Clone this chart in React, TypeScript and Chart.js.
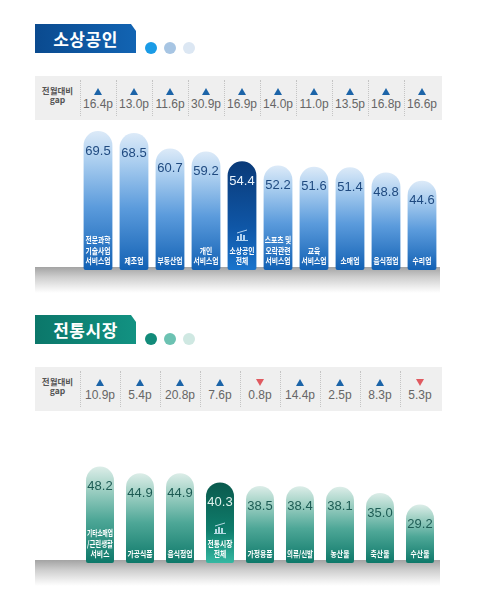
import { useEffect, useRef } from 'react';
import { Chart, registerables } from 'chart.js';

Chart.register(...registerables);

const FONT_KR = '"Noto Sans CJK KR", "Noto Sans", sans-serif';
const FONT_NUM = '"Liberation Sans", Arial, sans-serif';

// 소상공인
const bizCategories = [
    ['전문과학', '기술사업', '서비스업'],
    ['제조업'],
    ['부동산업'],
    ['개인', '서비스업'],
    ['소상공인', '전체'],
    ['스포츠 및', '오락관련', '서비스업'],
    ['교육', '서비스업'],
    ['소매업'],
    ['음식점업'],
    ['수리업'],
];
const bizValues = [69.5, 68.5, 60.7, 59.2, 54.4, 52.2, 51.6, 51.4, 48.8, 44.6];
const bizGap = ['16.4p', '13.0p', '11.6p', '30.9p', '16.9p', '14.0p', '11.0p', '13.5p', '16.8p', '16.6p'];
const bizGapUp = [true, true, true, true, true, true, true, true, true, true];
const bizHighlight = 4;

// 전통시장
const marketCategories = [
    ['기타소매업', '/근린생활', '서비스'],
    ['가공식품'],
    ['음식점업'],
    ['전통시장', '전체'],
    ['가정용품'],
    ['의류/신발'],
    ['농산물'],
    ['축산물'],
    ['수산물'],
];
const marketValues = [48.2, 44.9, 44.9, 40.3, 38.5, 38.4, 38.1, 35.0, 29.2];
const marketGap = ['10.9p', '5.4p', '20.8p', '7.6p', '0.8p', '14.4p', '2.5p', '8.3p', '5.3p'];
const marketGapUp = [true, true, true, true, false, true, true, true, false];
const marketHighlight = 3;

interface Palette {
    normal: [number, string][];
    highlight: [number, string][];
    valueColor: string;
    highlightValueColor: string;
}

const bluePalette: Palette = {
    normal: [[0, '#dceaf8'], [0.22, '#a9cdef'], [0.55, '#5b9bdc'], [1, '#1261b4']],
    highlight: [[0, '#0a3a78'], [0.6, '#0f56a6'], [1, '#1a74cc']],
    valueColor: '#1f4a80',
    highlightValueColor: '#eaf3fc',
};

const greenPalette: Palette = {
    normal: [[0, '#dcede8'], [0.22, '#a3d2c6'], [0.55, '#4ea797'], [1, '#0d7869']],
    highlight: [[0, '#0a5a4d'], [0.6, '#0f7d6c'], [1, '#35b8a2']],
    valueColor: '#1d5c54',
    highlightValueColor: '#dff2ec',
};

interface BarPanelProps {
    categories: string[][];
    values: number[];
    highlight: number;
    palette: Palette;
    width: number;
    height: number;
    yMax: number;
    barPercentage: number;
}

function BarPanel({ categories, values, highlight, palette, width, height, yMax, barPercentage }: BarPanelProps) {
    const canvasRef = useRef<HTMLCanvasElement>(null);

    useEffect(() => {
        if (!canvasRef.current) return;
        const labelPlugin = {
            id: 'barLabels',
            afterDatasetsDraw(chart: Chart) {
                const ctx = chart.ctx;
                const meta = chart.getDatasetMeta(0);
                meta.data.forEach((el: any, i: number) => {
                    const x = el.x;
                    const top = el.y;
                    const bottom = el.base;
                    const w = el.width;
                    ctx.save();
                    ctx.textAlign = 'center';
                    ctx.textBaseline = 'middle';
                    ctx.font = `13px ${FONT_NUM}`;
                    ctx.fillStyle = i === highlight ? palette.highlightValueColor : palette.valueColor;
                    ctx.fillText(values[i].toFixed(1), x, top + 20);

                    // category name, slightly condensed like the original artwork
                    const lines = categories[i];
                    const sx = 0.8;
                    ctx.font = `bold 8.5px ${FONT_KR}`;
                    ctx.fillStyle = '#ffffff';
                    lines.forEach((line, j) => {
                        const y = bottom - 9 - (lines.length - 1 - j) * 10.5;
                        ctx.save();
                        ctx.translate(x, y);
                        ctx.scale(sx, 1);
                        ctx.fillText(line, 0, 0, (w - 2) / sx);
                        ctx.restore();
                    });

                    if (i === highlight) {
                        // small chart icon above the label
                        const iy = bottom - 9 - lines.length * 10.5 - 4;
                        ctx.strokeStyle = 'rgba(220,240,255,0.8)';
                        ctx.fillStyle = 'rgba(220,240,255,0.8)';
                        ctx.lineWidth = 1;
                        ctx.fillRect(x - 5, iy, 2, 4);
                        ctx.fillRect(x - 2, iy - 2, 2, 6);
                        ctx.fillRect(x + 1, iy - 1, 2, 5);
                        ctx.beginPath();
                        ctx.moveTo(x - 6, iy + 4.5);
                        ctx.lineTo(x + 6, iy + 4.5);
                        ctx.moveTo(x - 5, iy - 3);
                        ctx.lineTo(x + 5, iy - 6);
                        ctx.stroke();
                    }
                    ctx.restore();
                });
            },
        };

        const chart = new Chart(canvasRef.current, {
            type: 'bar',
            data: {
                labels: categories.map(c => c.join(' ')),
                datasets: [{
                    data: values,
                    backgroundColor: (c: any) => {
                        const ch = c.chart;
                        const yScale = ch.scales?.y;
                        if (!ch.chartArea || !yScale || c.type !== 'data') return '#5a9ad8';
                        const top = yScale.getPixelForValue(values[c.dataIndex]);
                        const bottom = yScale.getPixelForValue(0);
                        const g = ch.ctx.createLinearGradient(0, top, 0, bottom);
                        const stops = c.dataIndex === highlight ? palette.highlight : palette.normal;
                        stops.forEach(([o, col]) => g.addColorStop(o, col));
                        return g;
                    },
                    borderWidth: 0,
                    borderSkipped: false,
                    borderRadius: { topLeft: 15, topRight: 15, bottomLeft: 2, bottomRight: 2 },
                    barPercentage,
                    categoryPercentage: 1,
                }],
            },
            options: {
                animation: false,
                responsive: false,
                maintainAspectRatio: false,
                layout: { padding: 0 },
                plugins: {
                    legend: { display: false },
                    tooltip: { enabled: false },
                },
                scales: {
                    x: { display: false },
                    y: { display: false, min: 0, max: yMax },
                },
            },
            plugins: [labelPlugin],
        });

        return () => {
            chart.destroy();
        };
    }, [categories, values, highlight, palette, yMax, barPercentage]);

    return <canvas ref={canvasRef} width={width} height={height} style={{ display: 'block', width, height }} />;
}

interface SectionProps {
    top: number;
    title: string;
    titleGradient: string;
    dotColors: string[];
    gaps: string[];
    gapUp: boolean[];
    categories: string[][];
    values: number[];
    highlight: number;
    palette: Palette;
    chartTop: number;
    chartHeight: number;
    barPercentage: number;
}

function Section({ top, title, titleGradient, dotColors, gaps, gapUp, categories, values, highlight, palette, chartTop, chartHeight, barPercentage }: SectionProps) {
    const colW = 360 / gaps.length;
    const rowTop = top + 52;
    const rowH = 44;
    return (
        <>
            <div style={{
                position: 'absolute', left: 35, top, width: 101, height: 29,
                background: titleGradient,
                clipPath: 'polygon(0 0, 96px 0, 101px 7px, 101px 100%, 0 100%)',
                color: '#fff', fontFamily: FONT_KR, fontWeight: 700, fontSize: 17,
                display: 'flex', alignItems: 'center', justifyContent: 'center',
                letterSpacing: 0.5,
            }}>{title}</div>
            {dotColors.map((c, i) => (
                <div key={i} style={{
                    position: 'absolute', left: 145 + i * 19, top: top + 18, width: 12, height: 12,
                    borderRadius: '50%', background: c,
                }} />
            ))}
            <div style={{ position: 'absolute', left: 35, top: rowTop, width: 407, height: rowH, background: '#efefef' }} />
            <div style={{
                position: 'absolute', left: 35, top: rowTop + 10, width: 45, textAlign: 'center',
                fontFamily: FONT_KR, fontWeight: 700, fontSize: 8.5, color: '#555', lineHeight: '9px',
            }}>전월대비<br />gap</div>
            {gaps.map((g, i) => (
                <div key={i} style={{ position: 'absolute', left: 80 + i * colW, top: rowTop, width: colW, height: rowH }}>
                    <div style={{ position: 'absolute', left: 0, top: 4, height: rowH - 8, borderLeft: '1px dotted #c4c4c4' }} />
                    <div style={{
                        position: 'absolute', left: colW / 2 - 4, top: 12, width: 0, height: 0,
                        borderLeft: '4px solid transparent', borderRight: '4px solid transparent',
                        ...(gapUp[i]
                            ? { borderBottom: '7px solid #1c64a8' }
                            : { borderTop: '7px solid #e05a60' }),
                    }} />
                    <div style={{
                        position: 'absolute', left: 0, top: 21, width: colW, textAlign: 'center',
                        fontFamily: FONT_NUM, fontSize: 12, color: '#666',
                    }}>{g}</div>
                </div>
            ))}
            <div style={{
                position: 'absolute', left: 35, top: chartTop + chartHeight - 3, width: 405, height: 26,
                background: 'linear-gradient(#a3a3a3, #cfcfcf 40%, #f0f0f0 80%, #ffffff)',
            }} />
            <div style={{ position: 'absolute', left: 80, top: chartTop, width: 360, height: chartHeight }}>
                <BarPanel
                    categories={categories}
                    values={values}
                    highlight={highlight}
                    palette={palette}
                    width={360}
                    height={chartHeight}
                    yMax={chartHeight / 2}
                    barPercentage={barPercentage}
                />
            </div>
        </>
    );
}

export default function App() {
    return (
        <div style={{ position: 'absolute', left: 0, top: 0, width: 489, height: 609, background: '#fff', overflow: 'hidden' }}>
            <Section
                top={24}
                title="소상공인"
                titleGradient="linear-gradient(90deg, #0a4a8f, #1264b3)"
                dotColors={['#1a9be6', '#a7c5e3', '#dce7f3']}
                gaps={bizGap}
                gapUp={bizGapUp}
                categories={bizCategories}
                values={bizValues}
                highlight={bizHighlight}
                palette={bluePalette}
                chartTop={120}
                chartHeight={150}
                barPercentage={0.8}
            />
            <Section
                top={315}
                title="전통시장"
                titleGradient="linear-gradient(90deg, #0b776a, #129282)"
                dotColors={['#128b7a', '#6cc2b2', '#cfe8e2']}
                gaps={marketGap}
                gapUp={marketGapUp}
                categories={marketCategories}
                values={marketValues}
                highlight={marketHighlight}
                palette={greenPalette}
                chartTop={412}
                chartHeight={151}
                barPercentage={0.7}
            />
        </div>
    );
}
